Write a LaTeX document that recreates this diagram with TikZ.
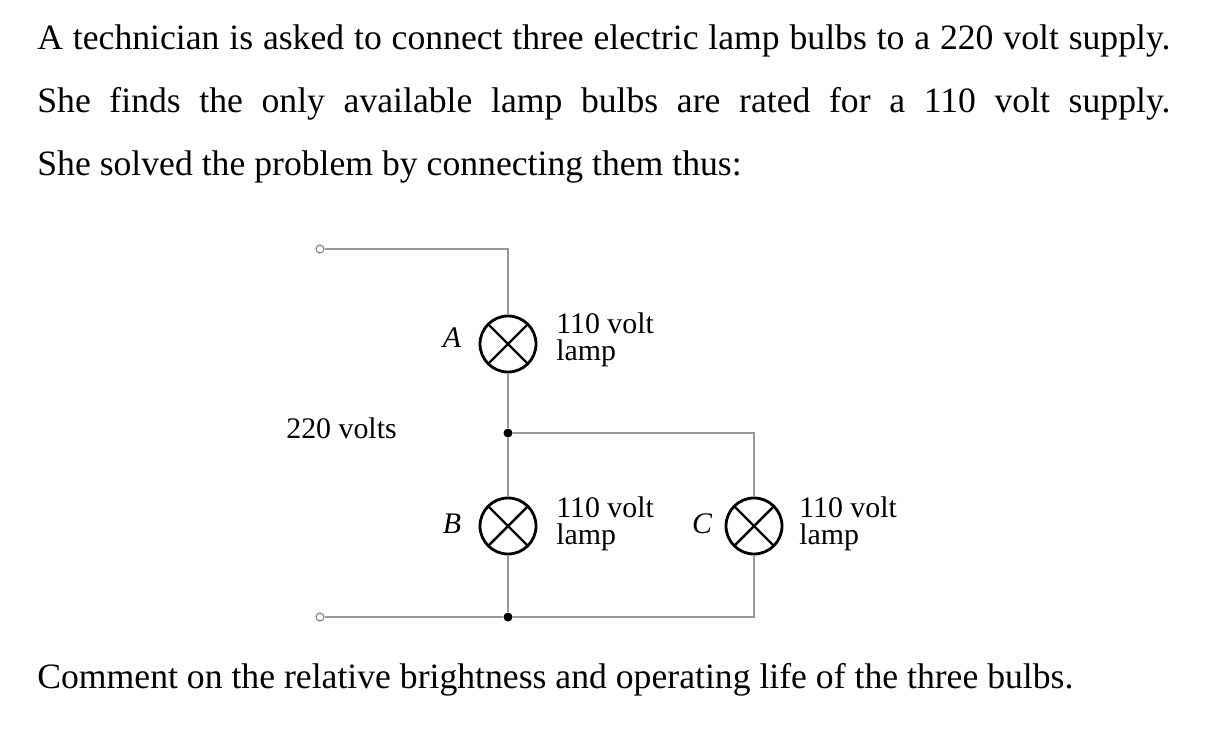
\documentclass[tikz,border=0pt]{standalone}
\usepackage{fontspec}
\setmainfont{Liberation Serif}
\begin{document}
\begin{tikzpicture}[x=0.02cm,y=-0.02cm,
  wire/.style={draw=gray!80,line width=0.7pt},
  lamp/.style={circle,draw,line width=1.6pt,minimum size=56*0.02cm,inner sep=0pt,
    path picture={\draw[line width=1.4pt] (path picture bounding box.south west)--(path picture bounding box.north east) (path picture bounding box.north west)--(path picture bounding box.south east);}},
  term/.style={circle,draw=gray,line width=0.6pt,fill=white,minimum size=8*0.02cm,inner sep=0pt},
  dot/.style={circle,fill,minimum size=9*0.02cm,inner sep=0pt},
  txt/.style={font=\fontsize{20.3}{24}\selectfont,inner sep=0pt,anchor=base west},
  lbl/.style={font=\fontsize{17}{15.5}\selectfont,inner sep=0pt},
  ]
\useasboundingbox (0,0) rectangle (1206,753);
\node[txt] (t1) at (37,50) {\makebox[1133\dimexpr0.02cm\relax][s]{A technician is asked to connect three electric lamp bulbs to a 220 volt supply.}};
\node[txt] (t2) at (37,113) {\makebox[1133\dimexpr0.02cm\relax][s]{She finds the only available lamp bulbs are rated for a 110 volt supply.}};
\node[txt] (t3) at (37,175) {She solved the problem by connecting them thus:};
\node[txt] (t4) at (37,688) {Comment on the relative brightness and operating life of the three bulbs.};

\coordinate (tr) at (508,249);
\coordinate (cr) at (754,433);
\coordinate (br) at (754,617);
\node[lamp] (A) at (508,344) {};
\node[lamp] (B) at (508,526) {};
\node[lamp] (C) at (754,526) {};
\node[dot] (j1) at (508,433) {};
\node[dot] (j2) at (508,617) {};
\node[term] (p1) at (320,249) {};
\node[term] (p2) at (320,617) {};
\draw[wire] (p1) -- (tr) -- (A);
\draw[wire] (A) -- (j1) -- (B);
\draw[wire] (B) -- (j2);
\draw[wire] (j1) -- (cr) -- (C);
\draw[wire] (C) -- (br) -- (j2) -- (p2);

\node[lbl,font=\fontsize{17}{17}\selectfont\itshape] (la) at (452,338) {A};
\node[lbl,font=\fontsize{17}{17}\selectfont\itshape] (lb) at (452,524) {B};
\node[lbl,font=\fontsize{17}{17}\selectfont\itshape] (lc) at (702,524) {C};
\node[lbl,align=left,anchor=west] (na) at (556,340) {110 volt\\lamp};
\node[lbl,align=left,anchor=west] (nb) at (556,524) {110 volt\\lamp};
\node[lbl,align=left,anchor=west] (nc) at (799,524) {110 volt\\lamp};
\node[lbl,anchor=west] (v) at (286,428) {220 volts};
\end{tikzpicture}
\end{document}
